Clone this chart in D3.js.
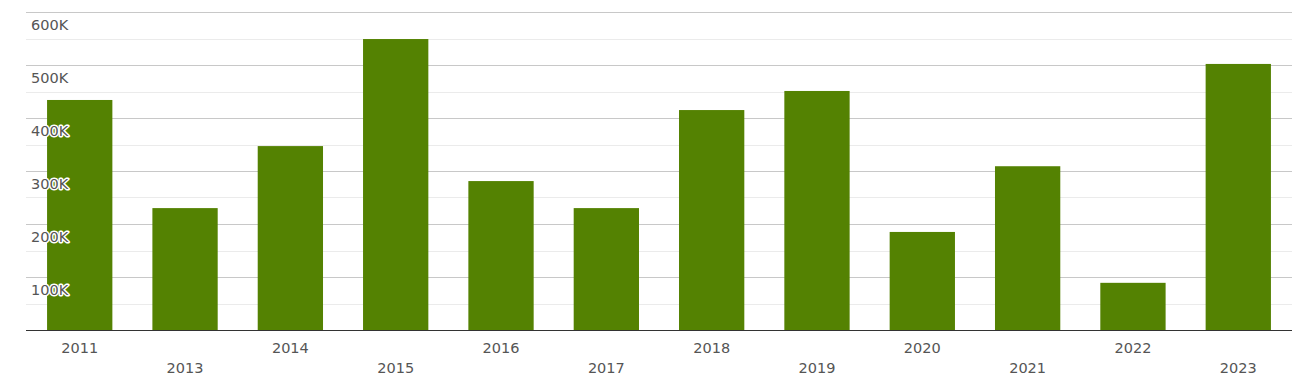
<!DOCTYPE html>
<html><head><meta charset="utf-8">
<script src="https://cdn.jsdelivr.net/npm/d3@7"></script>
<style>body{margin:0;background:#fff}svg{display:block}</style>
</head><body>
<script>
const years = ["2011","2013","2014","2015","2016","2017","2018","2019","2020","2021","2022","2023"];
const values = [434000,230000,347000,549000,281000,230000,415000,451000,185000,309000,89000,502000];
const majorTicks = [100000,200000,300000,400000,500000,600000];
const minorTicks = [50000,150000,250000,350000,450000,550000];

const W=1293,H=384, mLeft=26, mRight=1292, mTop=12, mBottom=330;
const svg=d3.select("body").append("svg").attr("width",W).attr("height",H);
const x=d3.scaleBand().domain(years).range([mLeft,mRight]).paddingInner(0.38).paddingOuter(0.2);
const y=d3.scaleLinear().domain([0,600000]).range([mBottom,mTop]);

svg.append("g").selectAll("line").data(minorTicks).join("line")
 .attr("x1",mLeft).attr("x2",mRight).attr("y1",d=>Math.round(y(d))+0.5).attr("y2",d=>Math.round(y(d))+0.5)
 .attr("stroke","#ebebeb").attr("stroke-width",1);
svg.append("g").selectAll("line").data(majorTicks).join("line")
 .attr("x1",mLeft).attr("x2",mRight).attr("y1",d=>Math.round(y(d))+0.5).attr("y2",d=>Math.round(y(d))+0.5)
 .attr("stroke","#c8c8c8").attr("stroke-width",1);

svg.append("g").selectAll("rect").data(values).join("rect")
 .attr("x",(d,i)=>x(years[i])).attr("width",x.bandwidth())
 .attr("y",d=>y(d)).attr("height",d=>mBottom-y(d)).attr("fill","#548202");

svg.append("line").attr("x1",mLeft).attr("x2",mRight).attr("y1",mBottom+0.5).attr("y2",mBottom+0.5)
 .attr("stroke","#333").attr("stroke-width",1);

const fmt=d=>(d/1000)+"K";
const yl=svg.append("g").attr("font-family","DejaVu Sans").attr("font-size",14.5);
yl.selectAll("text.h").data(majorTicks).join("text").attr("class","h")
 .attr("x",31).attr("y",d=>y(d)+18).text(fmt)
 .attr("fill","none").attr("stroke","#fff").attr("stroke-width",3).attr("stroke-linejoin","round");
yl.selectAll("text.t").data(majorTicks).join("text").attr("class","t")
 .attr("x",31).attr("y",d=>y(d)+18).text(fmt).attr("fill","#555");

svg.append("g").attr("font-family","DejaVu Sans").attr("font-size",14.5).attr("fill","#555")
 .selectAll("text").data(years).join("text")
 .attr("x",d=>x(d)+x.bandwidth()/2).attr("y",(d,i)=>i%2===0?353:373)
 .attr("text-anchor","middle").text(d=>d);
</script>
</body></html>
